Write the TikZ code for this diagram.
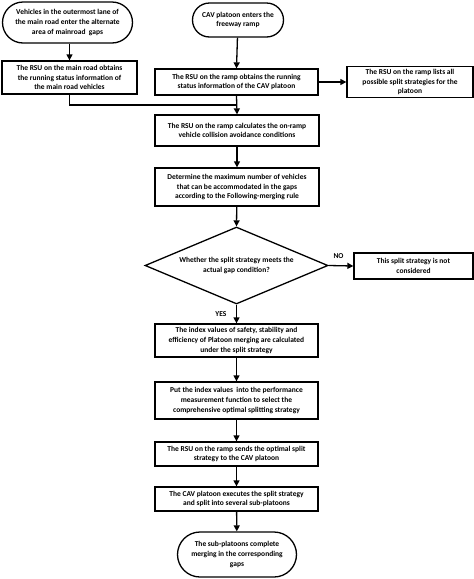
\documentclass[tikz,border=0pt]{standalone}
\usepackage{fontspec}
\setmainfont{Carlito}
\usetikzlibrary{shapes.geometric,shapes.misc,arrows.meta}

\tikzset{
    caja/.style={draw, line width=1.3pt, align=center, inner sep=0.5pt,
        font=\bfseries\fontsize{7.5}{9.6}\selectfont},
    borde/.style={caja, rounded rectangle},
    rombo/.style={caja, diamond, aspect=2.4, inner sep=0pt,
        minimum width=183pt, minimum height=77pt},
    flecha/.style={line width=1.3pt, -{Triangle[width=6pt,length=6pt]}},
    linea/.style={line width=1.3pt}
}

\begin{document}
\begin{tikzpicture}[x=1pt,y=-1pt]
        \useasboundingbox (0,0) rectangle (474,579);

        % ~~~~ Inicio ~~~~ %
        \node[borde, minimum width=131pt, minimum height=41pt] (viaje) at (67.5,22.5)
            {Vehicles in the outermost lane of\\the main road enter the alternate\\area of mainroad\ \ gaps};
        \node[borde, minimum width=92pt, minimum height=34pt] (cav) at (238,20)
            {CAV platoon enters the\\freeway ramp};

        % ~~~~ Informacion ~~~~ %
        \node[caja, minimum width=135pt, minimum height=33pt] (rsuprin) at (69.5,77.5)
            {The RSU on the main road obtains\\the running status information of\\the main road vehicles};
        \node[caja, minimum width=163pt, minimum height=26pt] (rsurampa) at (236.5,82)
            {The RSU on the ramp obtains the running\\status information of the CAV platoon};
        \node[caja, minimum width=126pt, minimum height=31pt,
            font=\bfseries\fontsize{7.5}{9.2}\selectfont] (lista) at (410,82)
            {The RSU on the ramp lists all\\possible split strategies for the\\platoon};

        % ~~~~ Calculo ~~~~ %
        \node[caja, minimum width=164pt, minimum height=31pt] (colision) at (237,130.5)
            {The RSU on the ramp calculates the on-ramp\\vehicle collision avoidance conditions};
        \node[caja, minimum width=164pt, minimum height=38pt] (maximo) at (237,187)
            {Determine the maximum number of vehicles\\that can be accommodated in the gaps\\according to the Following-merging rule};

        % ~~~~ Decision ~~~~ %
        \node[rombo] (hueco) at (236.5,265.5)
            {Whether the split strategy meets the\\actual gap condition?};
        \node[caja, minimum width=119pt, minimum height=26pt] (descarte) at (413.5,266)
            {This split strategy is not\\considered};

        % ~~~~ Fusion ~~~~ %
        \node[caja, minimum width=163pt, minimum height=33pt] (indice) at (236.5,340.5)
            {The index values of safety, stability and\\efficiency of Platoon merging are calculated\\under the split strategy};
        \node[caja, minimum width=163pt, minimum height=37pt] (funcion) at (236.5,400.5)
            {Put the index values\ \ into the performance\\measurement function to select the\\comprehensive optimal splitting strategy};
        \node[caja, minimum width=163pt, minimum height=24pt] (envio) at (236.5,454)
            {The RSU on the ramp sends the optimal split\\strategy to the CAV platoon};
        \node[caja, minimum width=163pt, minimum height=24pt] (ejecuta) at (236.5,499)
            {The CAV platoon executes the split strategy\\and split into several sub-platoons};
        \node[borde, minimum width=120pt, minimum height=45pt] (fin) at (237,554.5)
            {The sub-platoons complete\\merging in the corresponding\\gaps};

        % ~~~~ Flechas ~~~~ %
        \coordinate (union) at (236.5,105);
        \draw[flecha] (viaje.south -| rsuprin) -- (rsuprin.north);
        \draw[flecha] (cav) -- (rsurampa.north);
        \draw[flecha] (rsurampa) -- (lista);
        \draw[linea] (rsuprin.south) |- (union);
        \draw[flecha] (rsurampa.south) -- (colision.north);
        \draw[flecha] (colision) -- (maximo);
        \draw[flecha] (maximo) -- (hueco.north);
        \draw[flecha] (hueco.east) -- (descarte.west)
            node[pos=0.4, above=3pt, font=\bfseries\fontsize{7.5}{9}\selectfont] {NO};
        \draw[flecha] (hueco.south) -- (indice.north)
            node[midway, left=6pt, font=\bfseries\fontsize{7.5}{9}\selectfont] {YES};
        \draw[flecha] (indice) -- (funcion);
        \draw[flecha] (funcion) -- (envio);
        \draw[flecha] (envio) -- (ejecuta);
        \draw[flecha] (ejecuta) -- (fin);
    \end{tikzpicture}
\end{document}
